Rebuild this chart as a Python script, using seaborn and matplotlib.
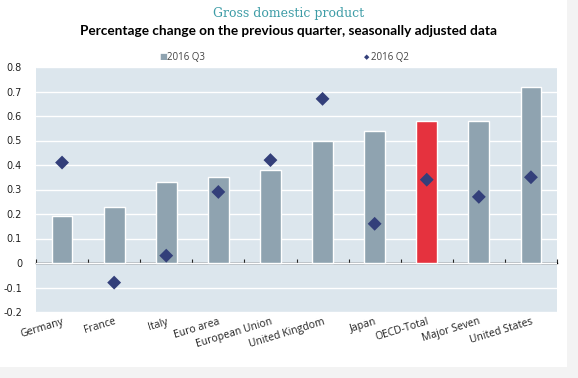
import pandas as pd
import seaborn as sns
import matplotlib.pyplot as plt
from matplotlib.patches import Rectangle
from matplotlib.ticker import MultipleLocator, FixedLocator, FuncFormatter

# Chart values
countries = ['Germany', 'France', 'Italy', 'Euro area', 'European Union',
             'United Kingdom', 'Japan', 'OECD-Total', 'Major Seven', 'United States']
q3_2016 = [0.19, 0.23, 0.33, 0.35, 0.38, 0.50, 0.54, 0.58, 0.58, 0.72]
q2_2016 = [0.41, -0.08, 0.03, 0.29, 0.42, 0.67, 0.16, 0.34, 0.27, 0.35]
highlight = 'OECD-Total'

df = pd.DataFrame({'country': countries, 'Q3': q3_2016, 'Q2': q2_2016})

bar_grey = '#8fa3b0'
bar_red = '#e5323e'
diamond = '#333f7a'
panel = '#dce6ed'

sns.set_style('white')
plt.rcParams['font.family'] = ['Open Sans', 'DejaVu Sans']

fig = plt.figure(figsize=(5.78, 3.78), dpi=100)
fig.patch.set_facecolor('#f3f3f3')
# white card behind the chart, light grey strip right and bottom
fig.patches.append(Rectangle((0, 11 / 378), 567 / 578, 1, transform=fig.transFigure,
                             facecolor='white', edgecolor='none', zorder=-1))

ax = fig.add_axes([36 / 578, 1 - 312 / 378, 521 / 578, 245 / 378])
ax.set_facecolor(panel)

colors = [bar_red if c == highlight else bar_grey for c in countries]
sns.barplot(data=df, x='country', y='Q3', hue='country', palette=colors,
            width=0.4, legend=False, ax=ax, zorder=2, saturation=1)
sns.scatterplot(data=df, x='country', y='Q2', marker='D', color=diamond,
                s=50, edgecolor='none', ax=ax, zorder=3)

ax.set_ylim(-0.2, 0.8)
ax.set_xlim(-0.5, len(countries) - 0.5)
ax.yaxis.set_major_locator(MultipleLocator(0.1))
ax.yaxis.set_major_formatter(FuncFormatter(lambda v, p: f'{v:g}' if abs(v) > 1e-9 else '0'))
ax.grid(axis='y', color='white', linewidth=1.0, zorder=0)
ax.set_axisbelow(True)
for s in ax.spines.values():
    s.set_visible(False)
ax.set_xlabel('')
ax.set_ylabel('')
ax.tick_params(axis='y', length=0, labelsize=7, pad=10, labelcolor='#222222')
ax.tick_params(axis='x', length=0, labelsize=7.5, pad=3, labelcolor='#222222')
plt.setp(ax.get_xticklabels(), rotation=17, ha='right', rotation_mode='anchor')
for lbl in ax.get_yticklabels():
    lbl.set_fontfamily('DejaVu Sans')

# zero line with small ticks between categories
zero = ax.secondary_xaxis(0.2)
zero.spines['bottom'].set_color('black')
zero.spines['bottom'].set_linewidth(1.0)
zero.xaxis.set_major_locator(FixedLocator([i - 0.5 for i in range(len(countries) + 1)]))
zero.tick_params(axis='x', direction='in', length=3, width=0.8, labelbottom=False)

fig.text(0.5, 1 - 14 / 378, 'Gross domestic product', ha='center', va='center',
         fontsize=9, color='#3d9ca6', family='DejaVu Serif')
fig.text(0.5, 1 - 31 / 378,
         'Percentage change on the previous quarter, seasonally adjusted data',
         ha='center', va='center', fontsize=9.8, fontweight='bold', color='black',
         family='Lato')
fig.text(159 / 578, 1 - 57 / 378, '\u25a0', ha='left', va='center', fontsize=6,
         color=bar_grey, family='DejaVu Sans')
fig.text(167 / 578, 1 - 57 / 378, '2016 Q3', ha='left', va='center', fontsize=7,
         color='#444444')
fig.text(364 / 578, 1 - 57 / 378, '\u25c6', ha='left', va='center', fontsize=5,
         color=diamond, family='DejaVu Sans')
fig.text(371 / 578, 1 - 57 / 378, '2016 Q2', ha='left', va='center', fontsize=7,
         color='#444444')

fig.savefig('out.png', dpi=100)
